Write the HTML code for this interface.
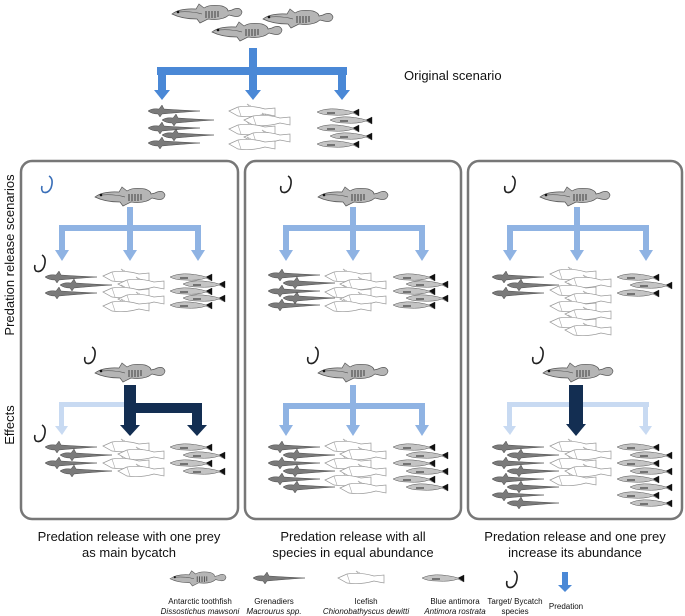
<!DOCTYPE html>
<html><head><meta charset="utf-8"><style>
html,body{margin:0;padding:0;background:#fff;}
svg{display:block;font-family:"Liberation Sans",sans-serif;}
</style></head><body>
<svg width="685" height="616" viewBox="0 0 685 616" xmlns="http://www.w3.org/2000/svg">
<defs>
<symbol id="T" overflow="visible">
<path d="M0 11 Q8 5 24 6 L27 1 L32 5 Q38 1 50 3 Q56 5 56 8 L60 7 Q68 3 70 9 Q69 15 61 13 L57 12 Q50 18 36 16 L28 20 L25 16 Q10 16 0 11Z" fill="#b5b5b5" stroke="#555" stroke-width=".7"/>
<path d="M34 8v7M37 8v7M40 8v7M43 8v7M46 8v6" stroke="#333" stroke-width=".9"/>
<path d="M6 9 Q20 8 30 11" stroke="#444" stroke-width=".6" fill="none"/>
<circle cx="6" cy="9" r="1.3" fill="#111"/>
</symbol>
<symbol id="G" overflow="visible">
<path d="M0 5 Q4 2 11 3 L14 -1 L16 3 Q30 4 52 5 Q30 6.5 14 8 L12 11 L10 8 Q4 8 0 5Z" fill="#7a7a7a" stroke="#333" stroke-width=".4"/>
</symbol>
<symbol id="I" overflow="visible">
<path d="M0 6 L9 2 Q22 0 36 4 L46 3 L46 11 L36 9 Q22 13 9 11 Z" fill="#fff" stroke="#999" stroke-width=".7"/>
<path d="M9 2 L12 11 M20 1 L18 -1 L22 1" stroke="#aaa" stroke-width=".6" fill="none"/>
</symbol>
<symbol id="A" overflow="visible">
<path d="M0 5 Q8 1 20 2 Q30 3 36 5 L42 2 L42 9 L36 6 Q28 9 15 8 Q5 8 0 5Z" fill="#c4c4c4" stroke="#555" stroke-width=".5"/>
<path d="M36 5 L42 2 L42 9Z" fill="#111"/>
<path d="M10 6 L18 6" stroke="#222" stroke-width="1"/>
</symbol>
<symbol id="H" overflow="visible">
<path d="M8 0 Q13 3 10 12 Q7 18 2 16 Q0 14 1 10" fill="none" stroke="currentColor" stroke-width="1.6"/>
</symbol>
</defs>

<use href="#T" x="172" y="3"/>
<use href="#T" x="263" y="8"/>
<use href="#T" x="212" y="21"/>
<g fill="#4a88d6">
<rect x="249" y="48" width="8" height="44"/>
<rect x="157" y="67" width="190" height="8"/>
<rect x="158" y="67" width="8" height="24"/><polygon points="154,90 170,90 162,100"/>
<rect x="249" y="67" width="8" height="24"/><polygon points="245,90 261,90 253,100"/>
<rect x="338" y="67" width="8" height="24"/><polygon points="334,90 350,90 342,100"/>
</g>
<use href="#G" x="148" y="106"/><use href="#G" x="162" y="115"/><use href="#G" x="148" y="123"/><use href="#G" x="162" y="130"/><use href="#G" x="148" y="138"/>
<use href="#I" x="229" y="105"/><use href="#I" x="244" y="114"/><use href="#I" x="229" y="123"/><use href="#I" x="244" y="131"/><use href="#I" x="229" y="138"/>
<use href="#A" x="317" y="107"/><use href="#A" x="330" y="115"/><use href="#A" x="317" y="123"/><use href="#A" x="330" y="131"/><use href="#A" x="317" y="139"/>
<text x="404" y="80" font-size="13" fill="#111">Original scenario</text>

<text transform="translate(14,255) rotate(-90)" text-anchor="middle" font-size="13" fill="#111">Predation release scenarios</text>
<text transform="translate(14,425) rotate(-90)" text-anchor="middle" font-size="13" fill="#111">Effects</text>

<g fill="none" stroke="#777" stroke-width="2.5">
<rect x="21" y="161" width="217" height="358" rx="11"/>
<rect x="245" y="161" width="216" height="358" rx="11"/>
<rect x="468" y="161" width="214" height="358" rx="11"/>
</g>

<g>
<use href="#H" x="41" y="176" style="color:#3a6fb8"/>
<use href="#T" x="95" y="186"/>
<g fill="#8fb3e3">
<rect x="127" y="207" width="6" height="45"/>
<rect x="59" y="225" width="142" height="6"/>
<rect x="59" y="225" width="6" height="27"/><polygon points="55,250 69,250 62,261"/>
<polygon points="123,250 137,250 130,261"/>
<rect x="195" y="225" width="6" height="27"/><polygon points="191,250 205,250 198,261"/>
</g>
<use href="#H" x="34" y="255" style="color:#222"/>
<use href="#G" x="45" y="272"/><use href="#G" x="60" y="280"/><use href="#G" x="45" y="288"/>
<use href="#I" x="103" y="270"/><use href="#I" x="118" y="278"/><use href="#I" x="103" y="286"/><use href="#I" x="118" y="293"/><use href="#I" x="103" y="300"/>
<use href="#A" x="170" y="272"/><use href="#A" x="183" y="279"/><use href="#A" x="170" y="286"/><use href="#A" x="183" y="293"/><use href="#A" x="170" y="300"/>

<use href="#H" x="84" y="347" style="color:#222"/>
<use href="#T" x="95" y="362"/>
<g fill="#c8daf2">
<rect x="59" y="402" width="70" height="5"/>
<rect x="59" y="402" width="5" height="25"/><polygon points="55,426 68,426 62,435"/>
</g>
<g fill="#132e52">
<rect x="124" y="385" width="12" height="42"/>
<rect x="124" y="403" width="78" height="10"/>
<rect x="192" y="403" width="10" height="24"/>
<polygon points="120,425 140,425 130,436"/><polygon points="187,425 207,425 197,436"/>
</g>
<use href="#H" x="34" y="425" style="color:#222"/>
<use href="#G" x="45" y="442"/><use href="#G" x="60" y="450"/><use href="#G" x="45" y="458"/><use href="#G" x="60" y="466"/>
<use href="#I" x="103" y="440"/><use href="#I" x="118" y="448"/><use href="#I" x="103" y="457"/><use href="#I" x="118" y="465"/>
<use href="#A" x="170" y="442"/><use href="#A" x="183" y="450"/><use href="#A" x="170" y="458"/><use href="#A" x="183" y="466"/>
<text x="129" y="541" text-anchor="middle" font-size="13" fill="#111">Predation release with one prey</text>
<text x="129" y="557" text-anchor="middle" font-size="13" fill="#111">as main bycatch</text>
</g>

<g>
<use href="#H" x="280" y="176" style="color:#222"/>
<use href="#T" x="318" y="186"/>
<g fill="#8fb3e3">
<rect x="350" y="207" width="6" height="45"/>
<rect x="283" y="225" width="142" height="6"/>
<rect x="283" y="225" width="6" height="27"/><polygon points="279,250 293,250 286,261"/>
<polygon points="346,250 360,250 353,261"/>
<rect x="419" y="225" width="6" height="27"/><polygon points="415,250 429,250 422,261"/>
</g>
<use href="#G" x="268" y="270"/><use href="#G" x="283" y="278"/><use href="#G" x="268" y="286"/><use href="#G" x="283" y="293"/><use href="#G" x="268" y="300"/>
<use href="#I" x="325" y="270"/><use href="#I" x="340" y="278"/><use href="#I" x="325" y="286"/><use href="#I" x="340" y="293"/><use href="#I" x="325" y="300"/>
<use href="#A" x="393" y="272"/><use href="#A" x="406" y="279"/><use href="#A" x="393" y="286"/><use href="#A" x="406" y="293"/><use href="#A" x="393" y="300"/>

<use href="#H" x="307" y="347" style="color:#222"/>
<use href="#T" x="318" y="362"/>
<g fill="#8fb3e3">
<rect x="350" y="385" width="6" height="42"/>
<rect x="283" y="403" width="142" height="6"/>
<rect x="283" y="403" width="6" height="24"/><polygon points="279,425 293,425 286,436"/>
<polygon points="346,425 360,425 353,436"/>
<rect x="419" y="403" width="6" height="24"/><polygon points="415,425 429,425 422,436"/>
</g>
<use href="#G" x="268" y="442"/><use href="#G" x="283" y="450"/><use href="#G" x="268" y="458"/><use href="#G" x="283" y="466"/><use href="#G" x="268" y="474"/><use href="#G" x="283" y="482"/>
<use href="#I" x="325" y="440"/><use href="#I" x="340" y="448"/><use href="#I" x="325" y="457"/><use href="#I" x="340" y="465"/><use href="#I" x="325" y="474"/><use href="#I" x="340" y="482"/>
<use href="#A" x="393" y="442"/><use href="#A" x="406" y="450"/><use href="#A" x="393" y="458"/><use href="#A" x="406" y="466"/><use href="#A" x="393" y="474"/><use href="#A" x="406" y="482"/>
<text x="353" y="541" text-anchor="middle" font-size="13" fill="#111">Predation release with all</text>
<text x="353" y="557" text-anchor="middle" font-size="13" fill="#111">species in equal abundance</text>
</g>

<g>
<use href="#H" x="504" y="176" style="color:#222"/>
<use href="#T" x="540" y="186"/>
<g fill="#8fb3e3">
<rect x="574" y="207" width="6" height="45"/>
<rect x="507" y="225" width="142" height="6"/>
<rect x="507" y="225" width="6" height="27"/><polygon points="503,250 517,250 510,261"/>
<polygon points="570,250 584,250 577,261"/>
<rect x="643" y="225" width="6" height="27"/><polygon points="639,250 653,250 646,261"/>
</g>
<use href="#G" x="492" y="272"/><use href="#G" x="507" y="280"/><use href="#G" x="492" y="288"/>
<use href="#I" x="550" y="268"/><use href="#I" x="565" y="276"/><use href="#I" x="550" y="284"/><use href="#I" x="565" y="292"/><use href="#I" x="550" y="300"/><use href="#I" x="565" y="308"/><use href="#I" x="550" y="316"/><use href="#I" x="565" y="324"/>
<use href="#A" x="617" y="272"/><use href="#A" x="630" y="280"/><use href="#A" x="617" y="288"/>

<use href="#H" x="532" y="347" style="color:#222"/>
<use href="#T" x="543" y="362"/>
<g fill="#c8daf2">
<rect x="507" y="402" width="142" height="5"/>
<rect x="507" y="402" width="5" height="25"/><polygon points="503,426 516,426 510,435"/>
<rect x="643" y="402" width="5" height="25"/><polygon points="639,426 652,426 646,435"/>
</g>
<g fill="#132e52">
<rect x="569" y="385" width="14" height="42"/>
<polygon points="566,424 586,424 576,436"/>
</g>
<use href="#G" x="492" y="442"/><use href="#G" x="507" y="450"/><use href="#G" x="492" y="458"/><use href="#G" x="507" y="466"/><use href="#G" x="492" y="474"/><use href="#G" x="507" y="482"/><use href="#G" x="492" y="490"/><use href="#G" x="507" y="498"/>
<use href="#I" x="550" y="440"/><use href="#I" x="565" y="448"/><use href="#I" x="550" y="457"/><use href="#I" x="565" y="465"/><use href="#I" x="550" y="474"/>
<use href="#A" x="617" y="442"/><use href="#A" x="630" y="450"/><use href="#A" x="617" y="458"/><use href="#A" x="630" y="466"/><use href="#A" x="617" y="474"/><use href="#A" x="630" y="482"/><use href="#A" x="617" y="490"/><use href="#A" x="630" y="498"/>
<text x="575" y="541" text-anchor="middle" font-size="13" fill="#111">Predation release and one prey</text>
<text x="575" y="557" text-anchor="middle" font-size="13" fill="#111">increase its abundance</text>
</g>

<use href="#T" x="170" y="570" transform="translate(170,570) scale(0.8) translate(-170,-570)"/>
<use href="#G" x="253" y="573"/>
<use href="#I" x="338" y="572"/>
<use href="#A" x="422" y="573"/>
<use href="#H" x="506" y="571" style="color:#222"/>
<g fill="#4a88d6"><rect x="562" y="572" width="6" height="14"/><polygon points="558,585 572,585 565,592"/></g>
<g font-size="8" fill="#111" text-anchor="middle">
<text x="200" y="604">Antarctic toothfish</text>
<text x="200" y="614" font-style="italic">Dissostichus mawsoni</text>
<text x="274" y="604">Grenadiers</text>
<text x="274" y="614" font-style="italic">Macrourus spp.</text>
<text x="366" y="604">Icefish</text>
<text x="366" y="614" font-style="italic">Chionobathyscus dewitti</text>
<text x="455" y="604">Blue antimora</text>
<text x="455" y="614" font-style="italic">Antimora rostrata</text>
<text x="515" y="604">Target/ Bycatch</text>
<text x="515" y="614">species</text>
<text x="566" y="609">Predation</text>
</g>
</svg>
</body></html>
